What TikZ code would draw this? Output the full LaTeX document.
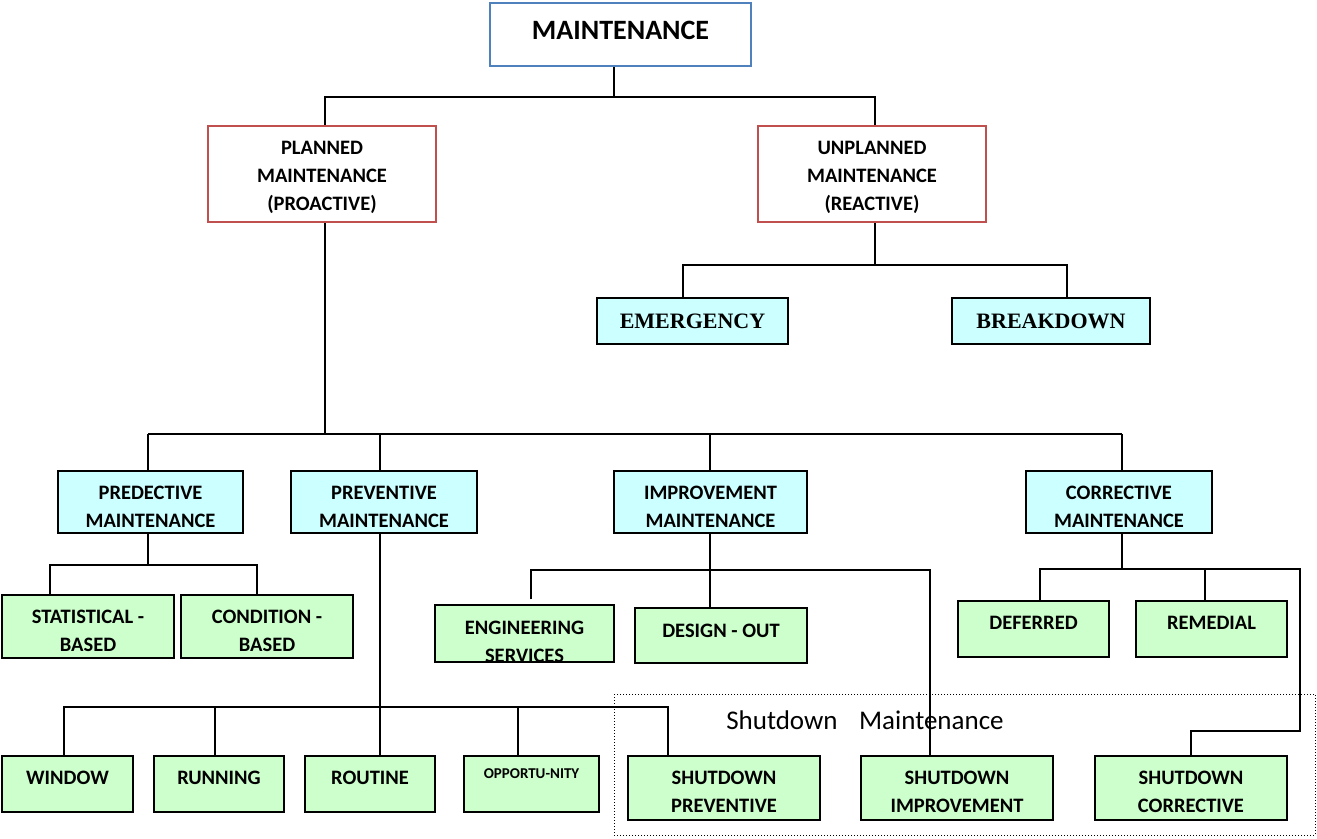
\documentclass[tikz,border=0pt]{standalone}
\usepackage{fontspec}
\setmainfont{Carlito}
\newfontfamily\serifb{Liberation Serif}
\definecolor{cyfill}{HTML}{CCFFFF}
\definecolor{grfill}{HTML}{CCFFCC}
\definecolor{bluebd}{HTML}{4F81BD}
\definecolor{redbd}{HTML}{C0504D}
\begin{document}
\begin{tikzpicture}[x=1pt,y=-1pt,
 base/.style={draw,inner sep=0pt,line width=1.3pt},
 top/.style={base,draw=bluebd,line width=2.6pt,fill=white},
 red/.style={base,draw=redbd,line width=2.6pt,fill=white},
 cy/.style={base,fill=cyfill},
 gr/.style={base,fill=grfill},
 txt/.style={font=\bfseries\fontsize{20.5}{28}\selectfont,align=center,inner sep=0pt},
 ln/.style={line width=1.3pt}]
\useasboundingbox (0,0) rectangle (1317,838);
\newcommand\bx[8]{%
 \node[#1,minimum width=#4-#2,minimum height=#5-#3] (#6) at ({(#2+#4)/2},{(#3+#5)/2}) {};
 \node[txt] at ({(#2+#4)/2},#8) {#7};}
\bx{top}{490}{3}{751}{66}{m}{\fontsize{28}{30}\selectfont MAINTENANCE}{30}
\bx{red}{208}{126}{436}{222}{pl}{PLANNED\\MAINTENANCE\\(PROACTIVE)}{177}
\bx{red}{758}{126}{986}{222}{up}{UNPLANNED\\MAINTENANCE\\(REACTIVE)}{177}
\bx{cy}{597}{298}{788}{344}{em}{\serifb\fontsize{22}{24}\selectfont EMERGENCY}{321}
\bx{cy}{952}{298}{1150}{344}{bd}{\serifb\fontsize{22}{24}\selectfont BREAKDOWN}{321}
\bx{cy}{58}{471}{243}{533}{pd}{PREDECTIVE\\MAINTENANCE}{507}
\bx{cy}{291}{471}{477}{533}{pv}{PREVENTIVE\\MAINTENANCE}{507}
\bx{cy}{614}{471}{807}{533}{im}{IMPROVEMENT\\MAINTENANCE}{507}
\bx{cy}{1026}{471}{1212}{533}{co}{CORRECTIVE\\MAINTENANCE}{507}
\bx{gr}{2}{595}{174}{658}{st}{STATISTICAL -\\BASED}{631}
\bx{gr}{181}{595}{353}{658}{cb}{CONDITION -\\BASED}{631}
\bx{gr}{435}{605}{614}{662}{es}{ENGINEERING\\SERVICES}{642}
\bx{gr}{635}{608}{807}{663}{dz}{DESIGN - OUT}{631}
\bx{gr}{958}{601}{1109}{657}{df}{DEFERRED}{623}
\bx{gr}{1136}{601}{1287}{657}{rm}{REMEDIAL}{623}
\bx{gr}{2}{756}{133}{812}{wi}{WINDOW}{778}
\bx{gr}{154}{756}{284}{812}{ru}{RUNNING}{778}
\bx{gr}{305}{756}{435}{812}{ro}{ROUTINE}{778}
\bx{gr}{464}{756}{599}{812}{op}{\fontsize{15}{16}\selectfont OPPORTU-NITY}{774}
\bx{gr}{628}{756}{820}{820}{sp}{SHUTDOWN\\PREVENTIVE}{792}
\bx{gr}{861}{756}{1053}{820}{si}{SHUTDOWN\\IMPROVEMENT}{792}
\bx{gr}{1095}{756}{1287}{820}{sc}{SHUTDOWN\\CORRECTIVE}{792}
\draw[dotted,line width=1pt] (614,694) rectangle (1315,835);
\node[font=\fontsize{27}{30}\selectfont,inner sep=0pt] (sl) at (865,720) {Shutdown\hspace{0.8em}Maintenance};
% connectors
\draw[ln] (m.south -| 614,0) -- (614,97) coordinate (c1);
\draw[ln] (pl.north -| 325,0) |- (c1) -| (up.north -| 875,0);
\draw[ln] (up.south -| 875,0) -- (875,265) coordinate (c2);
\draw[ln] (em.north -| 683,0) |- (c2) -| (bd.north -| 1067,0);
\draw[ln] (pl.south -| 325,0) -- (325,434) coordinate (c3);
\draw[ln] (148,434) -- (1122,434);
\draw[ln] (pd.north -| 148,0) -- (148,434) (pv.north -| 380,0) -- (380,434) (im.north -| 710,0) -- (710,434) (co.north -| 1122,0) -- (1122,434);
\draw[ln] (pd.south -| 148,0) -- (148,565) coordinate (c4);
\draw[ln] (st.north -| 50,0) |- (c4) -| (cb.north -| 257,0);
\draw[ln] (pv.south -| 380,0) -- (ro.north -| 380,0);
\draw[ln] (wi.north -| 64,0) |- (380,707) -| (sp.north -| 668,0);
\draw[ln] (ru.north -| 215,0) -- (215,707) (op.north -| 518,0) -- (518,707);
\draw[ln] (im.south -| 710,0) -- (710,570) coordinate (c5);
\draw[ln] (es.north -| 531,0) ++(0,-5) |- (c5) -| (si.north -| 930,0);
\draw[ln] (c5) -- (dz.north -| 710,0);
\draw[ln] (co.south -| 1122,0) -- (1122,569) coordinate (c6);
\draw[ln] (df.north -| 1040,0) |- (c6) -- (1300,569) -- (1300,731) -| (sc.north -| 1191,0);
\draw[ln] (rm.north -| 1205,0) -- (1205,569);
\end{tikzpicture}
\end{document}
